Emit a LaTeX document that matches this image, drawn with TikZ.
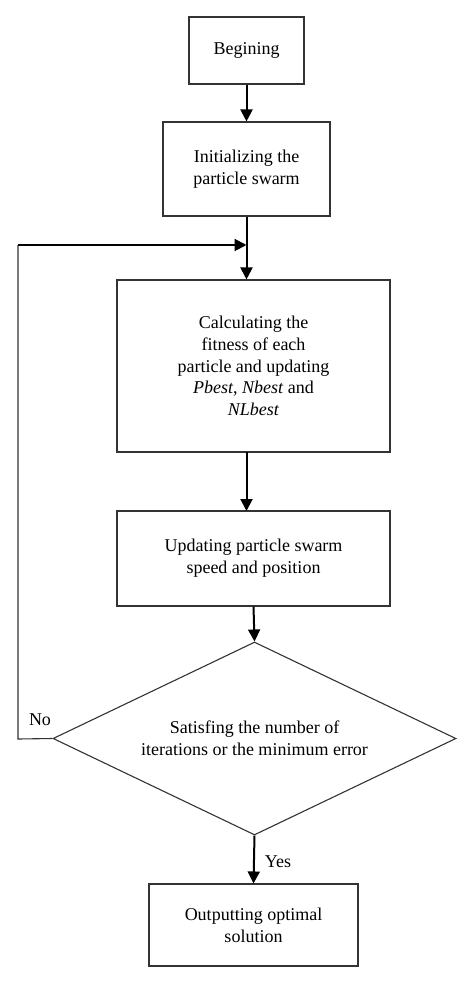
\documentclass[tikz,border=0pt]{standalone}
\usepackage{fontspec}
\setmainfont{Liberation Serif}
\usetikzlibrary{arrows.meta,shapes.geometric}
\begin{document}
\begin{tikzpicture}[x=1pt,y=-1pt,
  box/.style={draw=black!80,line width=1.1pt,rectangle,inner sep=0pt,align=center,font=\fontsize{18}{21.7}\selectfont},
  arr/.style={line width=2pt,-{Triangle[length=12pt,width=12pt]}},
  lbl/.style={font=\fontsize{18}{21.7}\selectfont,inner sep=0pt}]
\useasboundingbox (0,0) rectangle (474,983);
\node[box,minimum width=115pt,minimum height=67pt] (beg) at (246.5,50.5) {Begining};
\node[box,minimum width=167pt,minimum height=94pt] (init) at (246.5,169) {Initializing the\\particle swarm};
\node[box,minimum width=273pt,minimum height=172pt] (calc) at (253.5,366) {Calculating the\\fitness of each\\particle and updating\\\textit{Pbest}, \textit{Nbest} and\\\textit{NLbest}};
\node[box,minimum width=273pt,minimum height=95pt] (upd) at (253.5,558.5) {Updating particle swarm\\speed and position};
\node[box,diamond,aspect=2,minimum width=403pt,minimum height=193pt] (dia) at (254.5,738.5) {Satisfing the number of\\iterations or the minimum error};
\node[box,minimum width=209pt,minimum height=82pt] (out) at (253.5,925) {Outputting optimal\\solution};
\coordinate (join) at (246.5,245);
\coordinate (corner) at (18,739);
\draw[arr] (beg.south) -- (init.north);
\draw[arr] (init.south) -- (init.south |- calc.north);
\draw[arr] (246.5,452) -- (246.5,511);
\draw[arr] (upd.south) -- (dia.north);
\draw[arr] (dia.south) -- (out.north);
\draw[line width=1.1pt,draw=black!80] (dia.west) -- (corner) -- (corner |- join);
\draw[arr] (corner |- join) -- (join);
\node[lbl] (no) at (40,720) {No};
\node[lbl] (yes) at (278,862) {Yes};
\end{tikzpicture}
\end{document}
